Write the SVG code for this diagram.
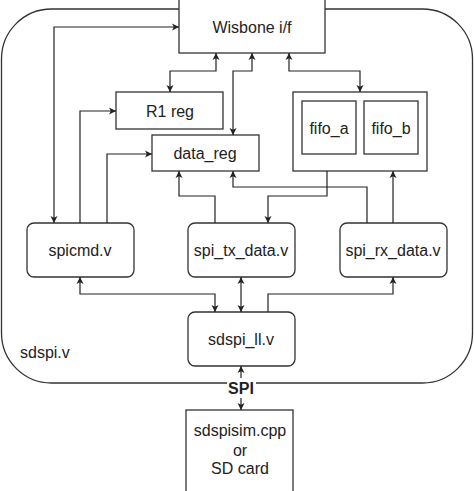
<svg xmlns="http://www.w3.org/2000/svg" width="474" height="491" viewBox="0 0 474 491">
<defs>
<marker id="arr" markerWidth="8" markerHeight="8" refX="7" refY="4" orient="auto-start-reverse" markerUnits="userSpaceOnUse">
<path d="M0,0.5 L7,4 L0,7.5 L1.8,4 z" fill="#222"/>
</marker>
</defs>
<style>
.box{fill:#fff;stroke:#333;stroke-width:1.3}
.t{font-family:"Liberation Sans",Arial,sans-serif;font-size:16px;fill:#222;text-anchor:middle;dominant-baseline:central}
.c{fill:none;stroke:#222;stroke-width:1.2}
</style>
<rect width="474" height="491" fill="#fff"/>
<g id="sdspi">
<rect x="1.5" y="9" width="471" height="374" rx="50" ry="50" fill="none" stroke="#333" stroke-width="1.3"/>
<text x="20" y="352" class="t" style="text-anchor:start">sdspi.v</text>
</g>
<g id="wisbone">
<rect class="box" x="179" y="-2" width="146" height="55"/>
<text class="t" x="252" y="27">Wisbone i/f</text>
</g>
<g id="r1reg">
<rect class="box" x="116" y="92" width="107" height="37"/>
<text class="t" x="170" y="111">R1 reg</text>
</g>
<g id="datareg">
<rect class="box" x="152" y="135" width="107" height="36"/>
<text class="t" x="205" y="153">data_reg</text>
</g>
<g id="fifo">
<rect class="box" x="293" y="92" width="134" height="79"/>
</g>
<g id="fifo_a">
<rect class="box" x="302" y="101" width="54" height="53"/>
<text class="t" x="329" y="128">fifo_a</text>
</g>
<g id="fifo_b">
<rect class="box" x="364" y="101" width="54" height="53"/>
<text class="t" x="391" y="128">fifo_b</text>
</g>
<g id="spicmd">
<rect class="box" x="27" y="223" width="107" height="54" rx="7"/>
<text class="t" x="80" y="250">spicmd.v</text>
</g>
<g id="spitx">
<rect class="box" x="188" y="223" width="107" height="54" rx="7"/>
<text class="t" x="241" y="250">spi_tx_data.v</text>
</g>
<g id="spirx">
<rect class="box" x="340" y="223" width="107" height="54" rx="7"/>
<text class="t" x="393" y="250">spi_rx_data.v</text>
</g>
<g id="sdspill">
<rect class="box" x="188" y="312" width="107" height="54" rx="7"/>
<text class="t" x="241" y="339">sdspi_ll.v</text>
</g>
<g id="sdspisim">
<rect class="box" x="186" y="410" width="107" height="90"/>
<text class="t" x="240" y="430">sdspisim.cpp</text>
<text class="t" x="240" y="450">or</text>
<text class="t" x="240" y="468">SD card</text>
</g>
<g id="connectors">
<path class="c" d="M216,53 V71 H170 V92" marker-start="url(#arr)" marker-end="url(#arr)"/>
<path class="c" d="M252,53 V71 H233 V135" marker-start="url(#arr)" marker-end="url(#arr)"/>
<path class="c" d="M289,53 V71 H360 V92" marker-start="url(#arr)" marker-end="url(#arr)"/>
<path class="c" d="M179,27 H54 V223" marker-start="url(#arr)" marker-end="url(#arr)"/>
<path class="c" d="M80,223 V111 H116" marker-end="url(#arr)"/>
<path class="c" d="M107,223 V154 H152" marker-end="url(#arr)"/>
<path class="c" d="M215,223 V196 H179 V171" marker-end="url(#arr)"/>
<path class="c" d="M327,171 V196 H268 V223" marker-end="url(#arr)"/>
<path class="c" d="M367,223 V187 H233 V171" marker-end="url(#arr)"/>
<path class="c" d="M393,223 V171" marker-end="url(#arr)"/>
<path class="c" d="M80,277 V294 H215 V312" marker-start="url(#arr)" marker-end="url(#arr)"/>
<path class="c" d="M241,277 V312" marker-start="url(#arr)" marker-end="url(#arr)"/>
<path class="c" d="M268,312 V294 H393 V277" marker-end="url(#arr)"/>
<path class="c" d="M241,366 V410" marker-start="url(#arr)" marker-end="url(#arr)"/>
<rect x="227" y="378" width="29" height="20" fill="#fff"/>
<text class="t" x="241" y="388" style="font-weight:bold">SPI</text>
</g>
</svg>
